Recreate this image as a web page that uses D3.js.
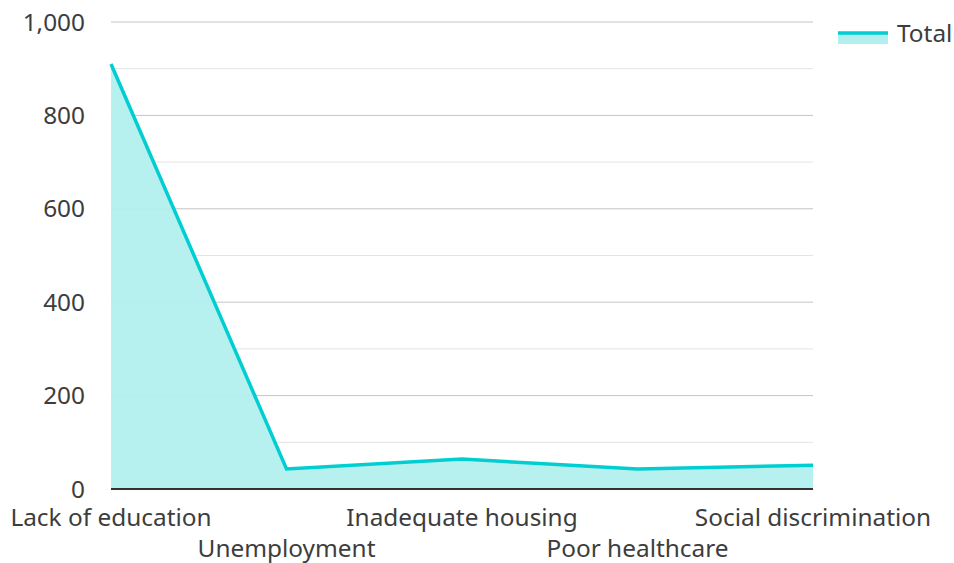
<!DOCTYPE html>
<html><head><meta charset="utf-8">
<script src="https://cdn.jsdelivr.net/npm/d3@7/dist/d3.min.js"></script>
<style>body{margin:0;background:#fff;} svg{display:block;font-family:"Noto Sans","Open Sans",sans-serif;}</style>
</head><body>
<svg id="c" width="954" height="563"></svg>
<script>
const categories = ["Lack of education","Unemployment","Inadequate housing","Poor healthcare","Social discrimination"];
const totalValues = [910, 43, 64, 43, 51];
const yTicks = [0, 200, 400, 600, 800, 1000];
const minorTicks = [100, 300, 500, 700, 900];
const seriesName = "Total";

const svg = d3.select("#c");
const L = 111, R = 813, T = 22, B = 489;
const x = d3.scalePoint().domain(categories).range([L, R]);
const y = d3.scaleLinear().domain([0, 1000]).range([B, T]);
const lineColor = "#00ced1", fillColor = "#b2efee";
const textColor = "#3d3d3d";
const fs = 24.4;

// gridlines
svg.append("g").selectAll("line").data(minorTicks).join("line")
  .attr("x1", L).attr("x2", R).attr("y1", d => y(d)).attr("y2", d => y(d))
  .attr("stroke", "#e3e3e3").attr("stroke-width", 1);
svg.append("g").selectAll("line").data(yTicks.filter(d => d > 0)).join("line")
  .attr("x1", L).attr("x2", R).attr("y1", d => y(d)).attr("y2", d => y(d))
  .attr("stroke", "#c4c4c4").attr("stroke-width", 1);

const data = categories.map((c, i) => ({c, v: totalValues[i]}));
svg.append("path").datum(data)
  .attr("d", d3.area().x(d => x(d.c)).y0(y(0)).y1(d => y(d.v)))
  .attr("fill", fillColor).attr("fill-opacity", 0.95);
svg.append("path").datum(data)
  .attr("d", d3.line().x(d => x(d.c)).y(d => y(d.v)))
  .attr("fill", "none").attr("stroke", lineColor).attr("stroke-width", 3.5).attr("stroke-linejoin", "miter");

// y axis labels
svg.append("g").selectAll("text").data(yTicks).join("text")
  .attr("x", 85).attr("y", d => y(d)).attr("dy", "0.35em")
  .attr("text-anchor", "end").attr("font-size", fs).attr("fill", textColor)
  .text(d => d3.format(",")(d));

// x axis line
svg.append("line").attr("x1", L).attr("x2", R).attr("y1", B).attr("y2", B)
  .attr("stroke", "#333").attr("stroke-width", 2);

// x labels
svg.append("g").selectAll("text").data(categories).join("text")
  .attr("x", d => x(d)).attr("y", (d, i) => i % 2 === 0 ? 526 : 557)
  .attr("text-anchor", "middle").attr("font-size", fs).attr("fill", textColor)
  .text(d => d);

// legend
const lg = svg.append("g");
lg.append("rect").attr("x", 838).attr("y", 34).attr("width", 50).attr("height", 10).attr("fill", fillColor);
lg.append("line").attr("x1", 838).attr("x2", 888).attr("y1", 33).attr("y2", 33)
  .attr("stroke", lineColor).attr("stroke-width", 3.5);
lg.append("text").attr("x", 897).attr("y", 33).attr("dy", "0.35em")
  .attr("font-size", fs).attr("fill", textColor).text(seriesName);
</script>
</body></html>
